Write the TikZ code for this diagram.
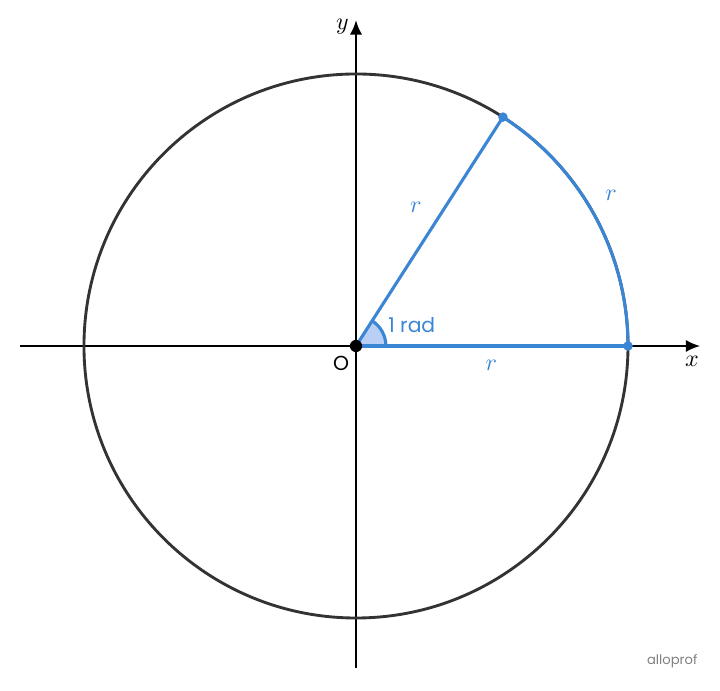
\documentclass[tikz,border=0pt]{standalone}
\usepackage{fontspec}
\newfontfamily\roundfont{Poppins}
\usetikzlibrary{arrows.meta}
\definecolor{arcblue}{RGB}{59,134,212}
\definecolor{anglefill}{RGB}{185,207,245}
\definecolor{circgray}{RGB}{51,51,51}
\tikzset{
  axe/.style={line width=0.8pt,-{Latex[length=2.1mm,width=1.8mm]}},
  bluetrait/.style={color=arcblue,line width=1.3pt},
  lbl/.style={font=\fontsize{10}{12}\selectfont},
  bluelbl/.style={text=arcblue,font=\fontsize{10}{12}\selectfont}
}
\begin{document}
\begin{tikzpicture}
         \useasboundingbox (-5.235,-5.059) rectangle (5.353,5.088) ;
         %\draw[very thin,gray,step=0.5] (-5,-5) grid (5,5) ;
         \coordinate (O) at (0,0) ;
         \coordinate (P) at (57.2958:4) ;
         \coordinate (A) at (4,0) ;
         \coordinate (xg) at (-4.94,0) ; \coordinate (xd) at (5.06,0) ;
         \coordinate (yb) at (0,-4.74) ; \coordinate (yh) at (0,4.79) ;
         \draw[axe] (xg) -- (xd) ;
         \draw[axe] (yb) -- (yh) ;
         \node[lbl] (xlab) at (4.94,-0.22) {$x$} ;
         \node[lbl] (ylab) at (-0.2,4.7) {$y$} ;
         \draw[color=circgray,line width=1.2pt] (O) circle (4) ;
         % angle de 1 rad
         \fill[anglefill] (O) -- (0.44,0) arc (0:57.2958:0.44) -- cycle ;
         \draw[bluetrait] (0.44,0) arc (0:57.2958:0.44) ;
         \draw[bluetrait] (A) arc (0:57.2958:4) ;
         \draw[bluetrait] (O) -- (P) ;
         \draw[bluetrait] (O) -- (A) ;
         \fill[arcblue] (P) circle (0.07) ;
         \fill[arcblue] (A) circle (0.07) ;
         \fill[black] (O) circle (0.09) ;
         \node[font=\roundfont\fontsize{8.5}{10}\selectfont] (olab) at (-0.22,-0.25) {O} ;
         \node[text=arcblue,font=\roundfont\fontsize{8.5}{10}\selectfont] (rad) at (0.82,0.31) {1 rad} ;
         \node[bluelbl] (r1) at (0.88,2.04) {$r$} ;
         \node[bluelbl] (r2) at (3.75,2.21) {$r$} ;
         \node[bluelbl] (r3) at (1.99,-0.28) {$r$} ;
         \node[text=gray,font=\roundfont\fontsize{5.5}{7}\selectfont] (logo) at (4.65,-4.63) {alloprof} ;
      \end{tikzpicture}
\end{document}
